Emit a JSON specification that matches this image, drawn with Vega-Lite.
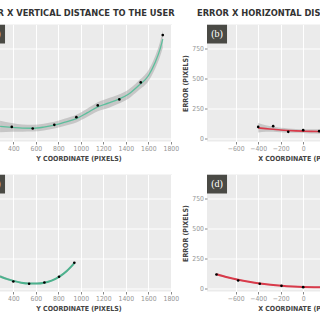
{
  "$schema": "https://vega.github.io/schema/vega-lite/v6.json",
  "padding": {"left": -28, "top": 8.5, "right": 0, "bottom": 0},
  "background": "white",
  "config": {
    "view": {"fill": "#EBEBEB", "stroke": null},
    "axis": {"domain": false, "gridColor": "white", "gridWidth": 1, "tickColor": "#8a8a8a", "tickSize": 2.5, "labelFont": "DejaVu Sans Condensed", "labelFontSize": 6.8, "labelColor": "#959595", "labelPadding": 1, "titleFont": "DejaVu Sans Condensed", "titleFontWeight": "bold", "titleFontSize": 7, "titleColor": "#444444", "labelFlush": false, "labelOverlap": false},
    "title": {"font": "DejaVu Sans Condensed", "fontWeight": "bold", "fontSize": 9.25, "color": "#333333", "offset": 6, "frame": "group", "anchor": "start"}
  },
  "columns": 2,
  "spacing": {"row": 33, "column": 35},
  "bounds": "flush",
  "datasets": {
    "tl_pts": [{"x": 386, "error": 96}, {"x": 572, "error": 83}, {"x": 764, "error": 113}, {"x": 960, "error": 177}, {"x": 1150, "error": 274}, {"x": 1342, "error": 324}, {"x": 1532, "error": 465}, {"x": 1728, "error": 857}],
    "tl_fit": [{"x": 282, "fit": 100, "lower": 52, "upper": 148}, {"x": 386, "fit": 92, "lower": 55, "upper": 129}, {"x": 480, "fit": 86, "lower": 56, "upper": 116}, {"x": 572, "fit": 85, "lower": 57, "upper": 113}, {"x": 670, "fit": 94, "lower": 66, "upper": 122}, {"x": 764, "fit": 110, "lower": 82, "upper": 138}, {"x": 860, "fit": 135, "lower": 105, "upper": 165}, {"x": 960, "fit": 165, "lower": 133, "upper": 197}, {"x": 1055, "fit": 212, "lower": 178, "upper": 246}, {"x": 1150, "fit": 262, "lower": 225, "upper": 300}, {"x": 1250, "fit": 295, "lower": 255, "upper": 335}, {"x": 1333, "fit": 325, "lower": 287, "upper": 363}, {"x": 1422, "fit": 367, "lower": 330, "upper": 404}, {"x": 1511, "fit": 437, "lower": 398, "upper": 476}, {"x": 1600, "fit": 520, "lower": 475, "upper": 565}, {"x": 1660, "fit": 630, "lower": 578, "upper": 682}, {"x": 1704, "fit": 741, "lower": 680, "upper": 802}, {"x": 1728, "fit": 824, "lower": 750, "upper": 898}],
    "tr_pts": [{"x": -400, "error": 96}, {"x": -267, "error": 102}, {"x": -133, "error": 55}, {"x": 0, "error": 69}, {"x": 142, "error": 61}],
    "tr_fit": [{"x": -400, "fit": 88, "lower": 50, "upper": 128}, {"x": -333, "fit": 82, "lower": 55, "upper": 110}, {"x": -267, "fit": 76, "lower": 55, "upper": 97}, {"x": -200, "fit": 70, "lower": 52, "upper": 88}, {"x": -133, "fit": 66, "lower": 49, "upper": 83}, {"x": -67, "fit": 63, "lower": 47, "upper": 79}, {"x": 0, "fit": 61, "lower": 45, "upper": 77}, {"x": 71, "fit": 59, "lower": 42, "upper": 76}, {"x": 142, "fit": 58, "lower": 40, "upper": 76}, {"x": 210, "fit": 58, "lower": 36, "upper": 80}],
    "bl_pts": [{"x": 400, "error": 58}, {"x": 540, "error": 39}, {"x": 676, "error": 50}, {"x": 806, "error": 97}, {"x": 942, "error": 213}],
    "bl_fit": [{"x": 282, "fit": 100, "lower": 88, "upper": 112}, {"x": 340, "fit": 80, "lower": 71, "upper": 89}, {"x": 400, "fit": 63, "lower": 56, "upper": 70}, {"x": 470, "fit": 48, "lower": 42, "upper": 54}, {"x": 540, "fit": 41, "lower": 35, "upper": 47}, {"x": 610, "fit": 41, "lower": 35, "upper": 47}, {"x": 676, "fit": 48, "lower": 42, "upper": 54}, {"x": 740, "fit": 65, "lower": 58, "upper": 72}, {"x": 806, "fit": 96, "lower": 88, "upper": 104}, {"x": 875, "fit": 145, "lower": 135, "upper": 155}, {"x": 942, "fit": 210, "lower": 196, "upper": 224}],
    "br_pts": [{"x": -771, "error": 116}, {"x": -578, "error": 66}, {"x": -386, "error": 39}, {"x": -193, "error": 22}, {"x": 0, "error": 11}],
    "br_fit": [{"x": -771, "fit": 118, "lower": 108, "upper": 128}, {"x": -675, "fit": 93, "lower": 86, "upper": 100}, {"x": -578, "fit": 72, "lower": 66, "upper": 78}, {"x": -482, "fit": 55, "lower": 50, "upper": 60}, {"x": -386, "fit": 41, "lower": 36, "upper": 46}, {"x": -290, "fit": 31, "lower": 26, "upper": 36}, {"x": -193, "fit": 23, "lower": 18, "upper": 28}, {"x": -96, "fit": 17, "lower": 12, "upper": 22}, {"x": 0, "fit": 13, "lower": 8, "upper": 18}, {"x": 96, "fit": 11, "lower": 5, "upper": 17}, {"x": 193, "fit": 10, "lower": 3, "upper": 17}]
  },
  "concat": [
    {
      "width": 187, "height": 117,
      "title": {"text": "ERROR X VERTICAL DISTANCE TO THE USER", "dx": -13},
      "resolve": {"axis": {"x": "independent", "y": "independent"}},
      "layer": [
        {"data": {"name": "tl_fit"}, "mark": {"type": "area", "color": "#999999", "opacity": 0.45, "interpolate": "monotone", "clip": true},
         "encoding": {
           "x": {"field": "x", "type": "quantitative", "scale": {"domain": [148, 1810], "nice": false, "zero": false},
                 "axis": {"title": "Y COORDINATE (PIXELS)", "titleBaseline": "middle", "titleY": 16.5, "format": "d", "values": [200,400,600,800,1000,1200,1400,1600,1800]}},
           "y": {"field": "lower", "type": "quantitative", "scale": {"domain": [-25, 945], "nice": false, "zero": false},
                 "axis": {"title": null, "labels": false, "ticks": false, "values": [0,250,500,750]}},
           "y2": {"field": "upper"}}},
        {"data": {"name": "tl_fit"}, "mark": {"type": "line", "color": "#5cbf9c", "strokeWidth": 1.3, "interpolate": "monotone", "clip": true},
         "encoding": {
           "x": {"field": "x", "type": "quantitative", "axis": {"orient": "bottom", "title": null, "labels": false, "ticks": false, "gridWidth": 0.5, "values": [300,500,700,900,1100,1300,1500,1700]}},
           "y": {"field": "fit", "type": "quantitative", "axis": {"orient": "left", "title": null, "labels": false, "ticks": false, "gridWidth": 0.5, "values": [125,375,625,875]}}}},
        {"data": {"name": "tl_pts"}, "mark": {"type": "circle", "color": "black", "size": 7, "opacity": 1, "clip": true},
         "encoding": {"x": {"field": "x", "type": "quantitative", "axis": null}, "y": {"field": "error", "type": "quantitative", "axis": null}}},
        {"data": {"values": [{"tag": "(a)"}]}, "mark": {"type": "rect", "color": "#4a4a45", "clip": true},
         "encoding": {"x": {"datum": 148, "axis": null}, "x2": {"datum": 326}, "y": {"datum": 945, "axis": null}, "y2": {"datum": 787}}},
        {"data": {"values": [{"tag": "(a)"}]}, "mark": {"type": "text", "color": "white", "font": "Liberation Serif", "fontSize": 10, "clip": true},
         "encoding": {"x": {"datum": 237, "axis": null}, "y": {"datum": 866, "axis": null}, "text": {"field": "tag"}}}
      ]
    },
    {
      "width": 187, "height": 117,
      "title": {"text": "ERROR X HORIZONTAL DISTANCE TO THE USER", "dx": -10},
      "resolve": {"axis": {"x": "independent", "y": "independent"}},
      "layer": [
        {"data": {"name": "tr_fit"}, "mark": {"type": "area", "color": "#999999", "opacity": 0.45, "interpolate": "monotone", "clip": true},
         "encoding": {
           "x": {"field": "x", "type": "quantitative", "scale": {"domain": [-855, 807], "nice": false, "zero": false},
                 "axis": {"title": "X COORDINATE (PIXELS)", "titleBaseline": "middle", "titleY": 16.5, "format": "d", "values": [-600,-400,-200,0,200,400,600]}},
           "y": {"field": "lower", "type": "quantitative", "scale": {"domain": [-25, 945], "nice": false, "zero": false},
                 "axis": {"title": "ERROR (PIXELS)", "titleBaseline": "middle", "titleX": -22, "values": [0,250,500,750]}},
           "y2": {"field": "upper"}}},
        {"data": {"name": "tr_fit"}, "mark": {"type": "line", "color": "#d93a4a", "strokeWidth": 1.6, "interpolate": "monotone", "clip": true},
         "encoding": {
           "x": {"field": "x", "type": "quantitative", "axis": {"orient": "bottom", "title": null, "labels": false, "ticks": false, "gridWidth": 0.5, "values": [-800,-700,-500,-300,-100,100,300,500,700,800]}},
           "y": {"field": "fit", "type": "quantitative", "axis": {"orient": "left", "title": null, "labels": false, "ticks": false, "gridWidth": 0.5, "values": [125,375,625,875]}}}},
        {"data": {"name": "tr_pts"}, "mark": {"type": "circle", "color": "black", "size": 7, "opacity": 1, "clip": true},
         "encoding": {"x": {"field": "x", "type": "quantitative", "axis": null}, "y": {"field": "error", "type": "quantitative", "axis": null}}},
        {"data": {"values": [{"tag": "(b)"}]}, "mark": {"type": "rect", "color": "#4a4a45", "clip": true},
         "encoding": {"x": {"datum": -855, "axis": null}, "x2": {"datum": -677}, "y": {"datum": 945, "axis": null}, "y2": {"datum": 787}}},
        {"data": {"values": [{"tag": "(b)"}]}, "mark": {"type": "text", "color": "white", "font": "Liberation Serif", "fontSize": 10, "clip": true},
         "encoding": {"x": {"datum": -766, "axis": null}, "y": {"datum": 866, "axis": null}, "text": {"field": "tag"}}}
      ]
    },
    {
      "width": 187, "height": 117,
      "resolve": {"axis": {"x": "independent", "y": "independent"}},
      "layer": [
        {"data": {"name": "bl_fit"}, "mark": {"type": "area", "color": "#999999", "opacity": 0.45, "interpolate": "monotone", "clip": true},
         "encoding": {
           "x": {"field": "x", "type": "quantitative", "scale": {"domain": [148, 1810], "nice": false, "zero": false},
                 "axis": {"title": "Y COORDINATE (PIXELS)", "titleBaseline": "middle", "titleY": 16.5, "format": "d", "values": [200,400,600,800,1000,1200,1400,1600,1800]}},
           "y": {"field": "lower", "type": "quantitative", "scale": {"domain": [-25, 945], "nice": false, "zero": false},
                 "axis": {"title": null, "labels": false, "ticks": false, "values": [0,250,500,750]}},
           "y2": {"field": "upper"}}},
        {"data": {"name": "bl_fit"}, "mark": {"type": "line", "color": "#4db28e", "strokeWidth": 2, "interpolate": "monotone", "clip": true},
         "encoding": {
           "x": {"field": "x", "type": "quantitative", "axis": {"orient": "bottom", "title": null, "labels": false, "ticks": false, "gridWidth": 0.5, "values": [300,500,700,900,1100,1300,1500,1700]}},
           "y": {"field": "fit", "type": "quantitative", "axis": {"orient": "left", "title": null, "labels": false, "ticks": false, "gridWidth": 0.5, "values": [125,375,625,875]}}}},
        {"data": {"name": "bl_pts"}, "mark": {"type": "circle", "color": "black", "size": 7, "opacity": 1, "clip": true},
         "encoding": {"x": {"field": "x", "type": "quantitative", "axis": null}, "y": {"field": "error", "type": "quantitative", "axis": null}}},
        {"data": {"values": [{"tag": "(c)"}]}, "mark": {"type": "rect", "color": "#4a4a45", "clip": true},
         "encoding": {"x": {"datum": 148, "axis": null}, "x2": {"datum": 326}, "y": {"datum": 945, "axis": null}, "y2": {"datum": 787}}},
        {"data": {"values": [{"tag": "(c)"}]}, "mark": {"type": "text", "color": "white", "font": "Liberation Serif", "fontSize": 10, "clip": true},
         "encoding": {"x": {"datum": 237, "axis": null}, "y": {"datum": 866, "axis": null}, "text": {"field": "tag"}}}
      ]
    },
    {
      "width": 187, "height": 117,
      "resolve": {"axis": {"x": "independent", "y": "independent"}},
      "layer": [
        {"data": {"name": "br_fit"}, "mark": {"type": "area", "color": "#999999", "opacity": 0.45, "interpolate": "monotone", "clip": true},
         "encoding": {
           "x": {"field": "x", "type": "quantitative", "scale": {"domain": [-855, 807], "nice": false, "zero": false},
                 "axis": {"title": "X COORDINATE (PIXELS)", "titleBaseline": "middle", "titleY": 16.5, "format": "d", "values": [-600,-400,-200,0,200,400,600]}},
           "y": {"field": "lower", "type": "quantitative", "scale": {"domain": [-25, 945], "nice": false, "zero": false},
                 "axis": {"title": "ERROR (PIXELS)", "titleBaseline": "middle", "titleX": -22, "values": [0,250,500,750]}},
           "y2": {"field": "upper"}}},
        {"data": {"name": "br_fit"}, "mark": {"type": "line", "color": "#d93a4a", "strokeWidth": 2, "interpolate": "monotone", "clip": true},
         "encoding": {
           "x": {"field": "x", "type": "quantitative", "axis": {"orient": "bottom", "title": null, "labels": false, "ticks": false, "gridWidth": 0.5, "values": [-800,-700,-500,-300,-100,100,300,500,700,800]}},
           "y": {"field": "fit", "type": "quantitative", "axis": {"orient": "left", "title": null, "labels": false, "ticks": false, "gridWidth": 0.5, "values": [125,375,625,875]}}}},
        {"data": {"name": "br_pts"}, "mark": {"type": "circle", "color": "black", "size": 7, "opacity": 1, "clip": true},
         "encoding": {"x": {"field": "x", "type": "quantitative", "axis": null}, "y": {"field": "error", "type": "quantitative", "axis": null}}},
        {"data": {"values": [{"tag": "(d)"}]}, "mark": {"type": "rect", "color": "#4a4a45", "clip": true},
         "encoding": {"x": {"datum": -855, "axis": null}, "x2": {"datum": -677}, "y": {"datum": 945, "axis": null}, "y2": {"datum": 787}}},
        {"data": {"values": [{"tag": "(d)"}]}, "mark": {"type": "text", "color": "white", "font": "Liberation Serif", "fontSize": 10, "clip": true},
         "encoding": {"x": {"datum": -766, "axis": null}, "y": {"datum": 866, "axis": null}, "text": {"field": "tag"}}}
      ]
    }
  ]
}
